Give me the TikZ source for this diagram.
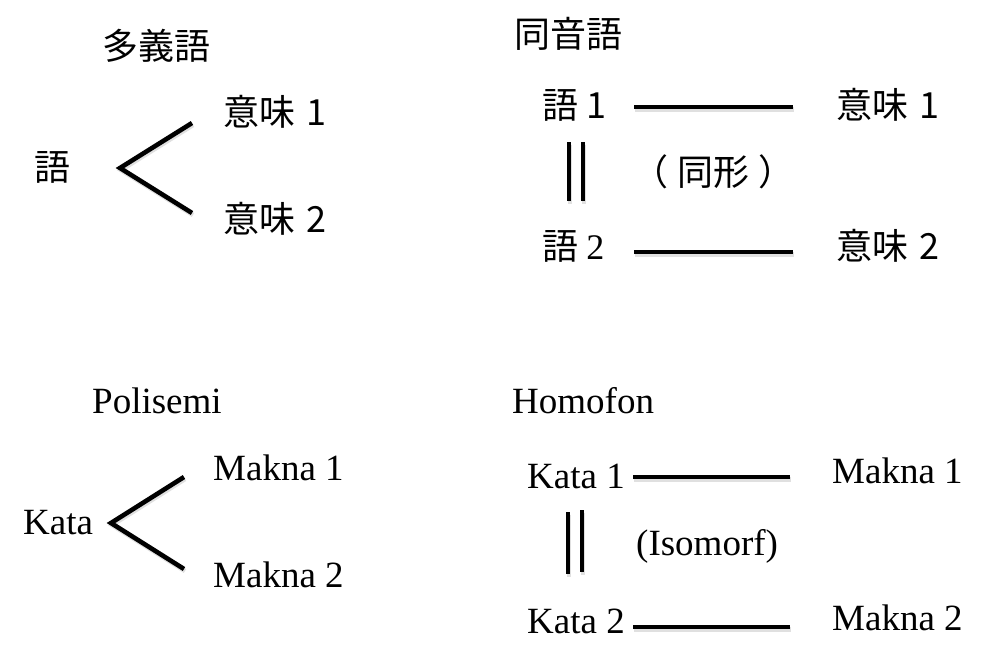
\documentclass[tikz,border=0pt]{standalone}
\usepackage{fontspec}
\setmainfont{Liberation Serif}
\newfontfamily\jp{Noto Sans CJK JP}
\newfontfamily\jpserif{Liberation Serif}
\begin{document}
\begin{tikzpicture}[x=1pt,y=-1pt,
  jtext/.style={inner sep=0pt,anchor=base west,font=\jp\fontsize{36}{40}\selectfont},
  stext/.style={inner sep=0pt,anchor=base west,font=\fontsize{37}{42}\selectfont},
  bar/.style={line width=4.6pt,black},
  barshadow/.style={line width=4.6pt,black!12}]
\useasboundingbox[fill=white] (0,0) rectangle (987,666);

% ---- top left: 多義語 ----
\node[jtext] (tlT) at (102,60) {多義語};
\node[jtext] (tlW) at (34,180) {語};
\node[jtext] (tlM1) at (223,125) {意味\hspace{3pt} 1};
\node[jtext] (tlM2) at (223,232) {意味\hspace{3pt} 2};
\coordinate (tlV) at (120,168);
\coordinate (tlA) at (192,123);
\coordinate (tlB) at (192,213);
\draw[barshadow] ([shift={(1,2)}]tlA) -- ([shift={(1,2)}]tlV) -- ([shift={(1,2)}]tlB);
\draw[bar] (tlA) -- (tlV) -- (tlB);

% ---- top right: 同音語 ----
\node[jtext] (trT) at (514,48) {同音語};
\node[jtext] (trW1) at (542,119) {語 1};
\node[jtext] (trW2) at (542,259) {語 {\jpserif 2}};
\node[jtext] (trM1) at (836,119) {意味\hspace{3pt} 1};
\node[jtext] (trM2) at (836,259) {意味\hspace{3pt} 2};
\node[jtext,anchor=base] (trI) at (713,185) {（\hspace{9pt}同形\hspace{9pt}）};
\coordinate (trL1a) at (634,107);
\coordinate (trL1b) at (793,107);
\coordinate (trL2a) at (634,252);
\coordinate (trL2b) at (793,252);
\coordinate (trPa1) at (569,142);
\coordinate (trPa2) at (569,201);
\coordinate (trPb1) at (583,142);
\coordinate (trPb2) at (583,201);
\draw[barshadow] ([shift={(1,2.5)}]trL1a) -- ([shift={(1,2.5)}]trL1b);
\draw[barshadow] ([shift={(1,2.5)}]trL2a) -- ([shift={(1,2.5)}]trL2b);
\draw[barshadow] ([shift={(1,2.5)}]trPa1) -- ([shift={(1,2.5)}]trPa2);
\draw[barshadow] ([shift={(1,2.5)}]trPb1) -- ([shift={(1,2.5)}]trPb2);
\draw[bar] (trL1a) -- (trL1b);
\draw[bar] (trL2a) -- (trL2b);
\draw[bar] (trPa1) -- (trPa2);
\draw[bar] (trPb1) -- (trPb2);

% ---- bottom left: Polisemi ----
\node[stext] (blT) at (92,413) {Polisemi};
\node[stext] (blW) at (23,534) {Kata};
\node[stext] (blM1) at (213,480) {Makna 1};
\node[stext] (blM2) at (213,587) {Makna 2};
\coordinate (blV) at (111,523);
\coordinate (blA) at (184,477);
\coordinate (blB) at (184,569);
\draw[barshadow] ([shift={(1,2)}]blA) -- ([shift={(1,2)}]blV) -- ([shift={(1,2)}]blB);
\draw[bar] (blA) -- (blV) -- (blB);

% ---- bottom right: Homofon ----
\node[stext] (brT) at (512,413) {Homofon};
\node[stext] (brW1) at (527,488) {Kata 1};
\node[stext] (brW2) at (527,633) {Kata 2};
\node[stext] (brM1) at (832,483) {Makna 1};
\node[stext] (brM2) at (832,630) {Makna 2};
\node[stext] (brI) at (636,555) {(Isomorf)};
\coordinate (brL1a) at (633,477);
\coordinate (brL1b) at (790,477);
\coordinate (brL2a) at (633,627);
\coordinate (brL2b) at (790,627);
\coordinate (brPa1) at (568,512);
\coordinate (brPa2) at (568,574);
\coordinate (brPb1) at (582,510);
\coordinate (brPb2) at (582,572);
\draw[barshadow] ([shift={(1,2.5)}]brL1a) -- ([shift={(1,2.5)}]brL1b);
\draw[barshadow] ([shift={(1,2.5)}]brL2a) -- ([shift={(1,2.5)}]brL2b);
\draw[barshadow] ([shift={(1,2.5)}]brPa1) -- ([shift={(1,2.5)}]brPa2);
\draw[barshadow] ([shift={(1,2.5)}]brPb1) -- ([shift={(1,2.5)}]brPb2);
\draw[bar] (brL1a) -- (brL1b);
\draw[bar] (brL2a) -- (brL2b);
\draw[bar] (brPa1) -- (brPa2);
\draw[bar] (brPb1) -- (brPb2);
\end{tikzpicture}
\end{document}
